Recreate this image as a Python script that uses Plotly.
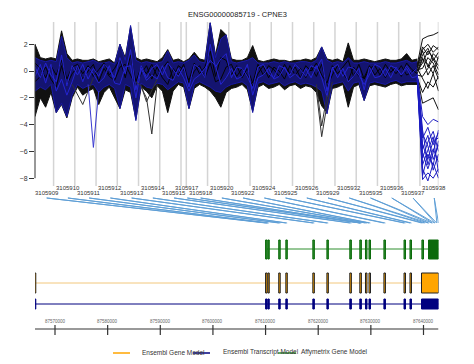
import plotly.graph_objects as go

W, H = 474, 364
def px(x):
    return x / W
def py(y):
    return 1 - y / H

FONT = "Liberation Sans, Arial, sans-serif"
TITLE = "ENSG00000085719 - CPNE3"

# ---------------- data: probe-level expression ----------------
probeset_ids = ["3105909", "3105910", "3105911", "3105912", "3105913", "3105914",
                "3105915", "3105917", "3105918", "3105920", "3105922", "3105924",
                "3105925", "3105926", "3105929", "3105932", "3105935", "3105936",
                "3105937", "3105938"]
probes_per_set = [4, 4, 4, 4, 4, 4, 4, 1, 4, 4, 4, 4, 4, 4, 4, 4, 4, 4, 4, 4]

# dense band of all samples (probes 1..73): outer (black) and inner (blue) envelopes
black_hi = [2.0, 1.0, 0.9, 1.0, 0.9, 3.0, 1.3, 0.8, 0.9, 0.8, 0.8, 0.9, 0.7, 0.8, 0.9, 0.6,
            2.0, 1.0, 3.3, 1.0, 0.8, 0.9, 0.8, 0.7, 1.0, 1.6, 0.8, 0.9, 0.7, 0.9, 1.4, 0.9,
            0.8, 3.6, 1.2, 3.1, 2.7, 0.9, 0.8, 0.8, 1.0, 1.9, 0.8, 0.7, 0.8, 0.9, 0.8, 0.8,
            0.7, 0.8, 0.8, 0.9, 0.8, 1.0, 1.8, 0.9, 0.8, 0.9, 0.7, 2.1, 0.8, 0.8, 0.9, 0.8,
            0.7, 0.8, 0.9, 0.8, 0.8, 0.9, 1.3, 0.8, 0.9]
black_lo = [-3.4, -2.0, -2.7, -1.6, -3.1, -2.5, -3.5, -2.0, -1.2, -1.8, -1.5, -1.3, -2.5, -1.6,
            -1.2, -2.0, -2.8, -1.4, -1.6, -3.6, -1.2, -1.5, -2.0, -1.1, -1.5, -3.1, -1.5, -1.0,
            -1.2, -2.8, -1.3, -1.0, -1.2, -1.5, -2.0, -2.7, -1.6, -1.3, -1.2, -1.0, -1.4, -3.0,
            -1.2, -1.0, -1.3, -1.2, -1.0, -1.4, -1.1, -1.0, -1.3, -1.1, -1.2, -1.6, -2.6, -3.1,
            -1.3, -1.2, -1.0, -2.7, -1.2, -1.0, -2.2, -1.1, -1.0, -1.1, -1.2, -1.0, -0.9, -1.1,
            -1.0, -1.0, -1.0]
blue_hi = [1.0, 0.8, 0.7, 0.8, 0.7, 2.6, 1.0, 0.6, 0.7, 0.6, 0.7, 0.8, 0.6, 0.6, 0.7, 0.5,
           2.0, 0.8, 3.4, 0.8, 0.6, 0.7, 0.6, 0.6, 0.7, 1.5, 0.6, 0.7, 0.6, 0.8, 1.2, 0.7,
           0.6, 3.6, 1.0, 2.4, 2.7, 0.7, 0.6, 0.7, 0.8, 1.0, 0.6, 0.6, 0.6, 0.7, 0.6, 0.7,
           0.6, 0.6, 0.7, 0.7, 0.6, 0.8, 1.8, 0.8, 0.6, 0.7, 0.6, 1.0, 0.6, 0.6, 0.7, 0.6,
           0.6, 0.6, 0.7, 0.6, 0.6, 0.7, 0.8, 0.6, 0.7]
blue_lo = [-1.5, -1.2, -1.4, -1.0, -3.1, -2.4, -3.4, -1.8, -1.0, -1.3, -1.1, -1.0, -1.6, -1.2,
           -1.0, -1.3, -2.8, -1.0, -1.2, -3.7, -0.9, -1.2, -1.3, -0.9, -1.0, -1.4, -1.1, -0.8,
           -0.9, -2.8, -1.0, -0.8, -1.0, -1.2, -1.5, -1.6, -1.2, -1.0, -0.9, -0.8, -1.1, -3.1,
           -0.9, -0.8, -1.0, -0.9, -0.8, -1.1, -0.9, -0.8, -1.0, -0.9, -1.0, -1.2, -1.5, -3.2,
           -1.0, -0.9, -0.8, -1.5, -0.9, -0.8, -2.2, -0.9, -0.8, -0.9, -1.0, -0.8, -0.7, -0.9,
           -0.8, -0.8, -0.8]

# a few individual samples visible inside the band (probes 1..73)
texture_black = [
    [0.6, 0.2, -0.5, 0.4, -0.3, 0.8, -0.6, 0.3, 0.5, -0.2, 0.4, -0.4, 0.1, 0.6, -0.3, 0.2,
     0.9, -0.5, 1.2, -0.8, 0.3, -0.2, 0.5, -0.4, 0.2, 0.7, -0.6, 0.4, 0.1, -0.7, 0.6, -0.2,
     0.3, 1.5, -0.4, 1.0, 0.8, -0.3, 0.4, -0.5, 0.2, -0.9, 0.5, -0.3, 0.4, 0.1, -0.4, 0.5,
     -0.2, 0.3, -0.5, 0.4, 0.0, 0.6, -0.3, -0.9, 0.4, -0.2, 0.3, 0.8, -0.4, 0.5, -0.6, 0.2,
     0.4, -0.3, 0.5, -0.1, 0.3, -0.4, 0.6, 0.1, -0.2],
    [-0.8, -0.4, 0.3, -0.6, -1.2, 0.4, -1.0, -0.2, 0.3, -0.6, 0.0, 0.5, -0.8, 0.2, -0.4, -0.7,
     0.3, 0.5, -0.3, -1.1, -0.2, 0.4, -0.6, 0.3, -0.5, -1.0, 0.2, -0.3, 0.5, -0.9, 0.0, 0.4,
     -0.5, 0.6, -0.8, -0.6, 0.3, 0.5, -0.4, 0.2, -0.3, -1.1, -0.2, 0.4, -0.5, 0.3, 0.0, -0.6,
     0.4, -0.3, 0.2, -0.5, 0.3, -0.4, 0.5, -1.2, -0.3, 0.4, -0.2, -0.7, 0.3, -0.4, -0.5, 0.4,
     -0.3, 0.2, -0.5, 0.3, -0.2, 0.4, -0.3, -0.1, 0.3]]
texture_blue = [
    [0.3, -0.5, 0.6, -0.3, -0.8, 1.2, -1.1, 0.4, -0.3, 0.5, -0.6, 0.2, -0.4, 0.5, 0.1, -0.5,
     1.0, -0.2, 1.6, -1.4, 0.4, -0.5, 0.2, 0.5, -0.3, 0.6, 0.1, -0.4, 0.3, -1.2, 0.5, 0.2,
     -0.5, 2.0, 0.3, 0.9, 1.3, -0.5, 0.3, 0.2, -0.4, -1.3, 0.3, 0.5, -0.2, -0.5, 0.4, 0.2,
     -0.3, 0.5, 0.1, -0.4, 0.4, 0.2, 0.9, -1.5, 0.2, 0.5, -0.4, 0.3, 0.2, -0.3, -1.0, -0.2,
     0.5, 0.3, -0.4, 0.4, 0.2, -0.3, 0.4, -0.2, 0.3],
    [-0.4, 0.5, -0.9, 0.5, -1.5, -0.6, -1.8, -0.8, 0.4, -0.8, 0.3, -0.2, -0.9, -0.5, 0.4, -0.9,
     -1.0, 0.3, 0.4, -2.0, 0.2, -0.7, -0.3, -0.6, 0.4, -0.5, -0.7, 0.2, -0.5, -1.5, -0.6, -0.3,
     0.2, 0.8, 0.4, -1.0, -0.5, 0.2, -0.6, -0.4, 0.5, -1.8, -0.5, -0.3, 0.2, -0.6, -0.4, 0.3,
     -0.5, -0.2, -0.6, 0.2, -0.5, 0.4, -0.5, -1.9, 0.3, -0.5, 0.2, -0.8, -0.4, 0.2, -1.4, 0.3,
     -0.5, -0.4, 0.2, -0.5, 0.3, -0.3, 0.2, -0.5, -0.4]]

# single outlying samples: (first probe, values)
black_outliers = [(8, [-1.0, -1.8, -2.5, -1.5, -0.5]),
                  (20, [-0.8, -1.1, -2.3, -1.4, -0.6]),
                  (21, [-1.2, -2.0, -4.7, -1.0]),
                  (54, [-1.5, -4.9, -2.5, -0.8]),
                  (54, [-1.0, -4.1, -1.8])]
blue_outliers = [(11, [-1.0, -5.7, -1.5])]

# last probe set (probes 73..77), each sample separately
last_first_probe = 73
last_black = [[0.5, 2.4, 2.6, 2.7, 2.9], [0.3, 1.8, 1.2, 1.9, 1.6], [0.2, 1.2, 1.7, 0.8, 1.4],
              [0.0, 0.6, 1.5, 1.0, 0.4], [0.4, 1.5, 0.3, 1.3, 0.9], [-0.2, 0.9, 0.5, -0.2, 1.1],
              [0.1, 0.2, 1.0, 0.6, -0.3], [-0.3, -0.4, 0.2, 0.9, 0.1], [0.0, 1.0, -0.3, 0.4, -0.6],
              [-0.5, -1.6, -0.8, -1.2, -0.4], [-0.4, -2.4, -2.2, -2.0, -2.9],
              [0.2, -0.6, -1.3, -0.2, -1.5], [0.3, 1.6, 2.0, 1.4, 1.8]]
last_blue = [[-0.3, -3.4, -4.0, -3.6, -3.8], [-0.5, -5.0, -4.2, -5.5, -4.6],
             [-0.4, -6.5, -5.3, -4.5, -6.0], [-0.6, -7.8, -6.2, -7.0, -5.2],
             [-0.2, -4.4, -7.0, -5.8, -6.8], [-0.5, -8.1, -7.6, -8.0, -7.3],
             [-0.3, -5.8, -4.8, -6.6, -5.5], [-0.7, -7.0, -5.9, -4.9, -7.6],
             [-0.4, -6.1, -7.3, -6.1, -4.4], [-0.6, -4.7, -5.6, -7.4, -6.2],
             [-0.3, -7.3, -8.2, -6.9, -8.0], [-0.5, -5.5, -6.6, -5.2, -5.0]]

y_ticks = [-8, -6, -4, -2, 0, 2]

# ---------------- data: genomic tracks ----------------
gene_ex_start = [87566100, 87610000, 87610450, 87612500, 87613850, 87618980, 87621650, 87626000,
                 87627900, 87628980, 87629650, 87632480, 87636300, 87637430, 87639620]
gene_ex_end = [87566350, 87610300, 87610700, 87612780, 87614130, 87619270, 87621930, 87626300,
               87628200, 87629260, 87629930, 87632770, 87636580, 87637720, 87642850]
affy_ex_start = [87610000, 87610450, 87612500, 87613850, 87618980, 87621650, 87626000, 87627900,
                 87628980, 87629650, 87632480, 87636300, 87637430, 87639700, 87640950]
affy_ex_end = [87610300, 87610700, 87612780, 87614130, 87619270, 87621930, 87626300, 87628200,
               87629260, 87629930, 87632770, 87636580, 87637720, 87640000, 87642850]
transcript_id = "ENST00000198765"
probeset_gstart = [87610000, 87610400, 87612500, 87613850, 87619000, 87621650, 87626000, 87627900,
                   87628050, 87628950, 87629650, 87632450, 87636300, 87637450, 87639650, 87640300,
                   87641000, 87641700, 87642200, 87642550]
probeset_gend = [87610300, 87610600, 87612800, 87614100, 87619250, 87621900, 87626300, 87628000,
                 87628200, 87629250, 87629900, 87632750, 87636550, 87637700, 87640000, 87640900,
                 87641600, 87642100, 87642500, 87642850]
genome_ticks = [87570000, 87580000, 87590000, 87600000, 87610000, 87620000, 87630000, 87640000]
genome_range = [87566200, 87642850]

legend_names = ["Ensembl Gene Model", "Ensembl Transcript Model", "Affymetrix Gene Model"]

# ---------------- colours ----------------
C_BLACK = "#111111"
C_BLUE = "#1c1cc0"
C_GRID = "#d4d4d4"
C_GREEN = "#2f8f2f"
C_DKGREEN = "#0b6a0b"
C_ORANGE = "#FFA500"
C_ORANGE_LN = "#F2C77C"
C_NAVY = "#00007f"
C_CONN = "#5f9fd6"

# ---------------- derived positions ----------------
n_probes = sum(probes_per_set)
band_x = list(range(1, len(black_hi) + 1))
starts = []
s = 1
for n in probes_per_set:
    starts.append(s)
    s += n
centers = [st + (n - 1) / 2 for st, n in zip(starts, probes_per_set)]
boundaries = [st + n - 0.5 for st, n in zip(starts, probes_per_set)][:-1] + [n_probes]

x_range = [1, n_probes]
def probe_to_genome(p):
    return genome_range[0] + (p - x_range[0]) / (x_range[1] - x_range[0]) * (genome_range[1] - genome_range[0])

fig = go.Figure()

def line_trace(x, y, color, width=1, **kw):
    return go.Scatter(x=x, y=y, mode="lines", line=dict(color=color, width=width),
                      hoverinfo="skip", showlegend=False, **kw)

# dense band
fig.add_trace(line_trace(band_x, black_lo, C_BLACK, xaxis="x", yaxis="y"))
fig.add_trace(line_trace(band_x, black_hi, C_BLACK, xaxis="x", yaxis="y",
                         fill="tonexty", fillcolor=C_BLACK))
fig.add_trace(line_trace(band_x, blue_lo, "#1a1aa8", xaxis="x", yaxis="y"))
fig.add_trace(line_trace(band_x, blue_hi, "#1a1aa8", xaxis="x", yaxis="y",
                         fill="tonexty", fillcolor="rgba(20,20,125,0.88)"))
for vals in texture_black:
    fig.add_trace(line_trace(band_x, vals, "#050505", xaxis="x", yaxis="y"))
for vals in texture_blue:
    fig.add_trace(line_trace(band_x, vals, "#2525d0", xaxis="x", yaxis="y"))

for first, vals in black_outliers:
    fig.add_trace(line_trace(list(range(first, first + len(vals))), vals, "#333333",
                             xaxis="x", yaxis="y"))
for first, vals in blue_outliers:
    fig.add_trace(line_trace(list(range(first, first + len(vals))), vals, "#3a3ad0",
                             xaxis="x", yaxis="y"))
last_x = list(range(last_first_probe, last_first_probe + 5))
for vals in last_black:
    fig.add_trace(line_trace(last_x, vals, C_BLACK, xaxis="x", yaxis="y"))
for vals in last_blue:
    fig.add_trace(line_trace(last_x, vals, C_BLUE, xaxis="x", yaxis="y"))

shapes = []
annotations = []

# probe set boundaries
for b in boundaries:
    shapes.append(dict(type="line", xref="x", yref="y domain", x0=b, x1=b, y0=0, y1=1,
                       line=dict(color=C_GRID, width=1.5), layer="below"))
# y axis line (R style: spans tick range only)
shapes.append(dict(type="line", xref="x domain", yref="y", x0=0, x1=0, y0=y_ticks[0], y1=y_ticks[-1],
                   line=dict(color="#333333", width=1)))

# probe set labels
for i, (pid, c) in enumerate(zip(probeset_ids, centers)):
    annotations.append(dict(text=pid, x=c + 0.7, y=py(193) if i % 2 == 0 else py(188),
                            xref="x", yref="paper", showarrow=False, xanchor="center",
                            yanchor="middle", font=dict(size=6, color="#333333", family=FONT)))

# connectors probe set -> genomic location
Y_CONN_TOP, Y_CONN_BOT = 142, 117
for c, g0, g1 in zip(centers, probeset_gstart, probeset_gend):
    gx = probe_to_genome(c + 0.7)
    for g in (g0, g1):
        fig.add_trace(line_trace([gx, g], [Y_CONN_TOP, Y_CONN_BOT], C_CONN,
                                 xaxis="x2", yaxis="y2"))

# Affymetrix gene model (green)
AF_LO, AF_HI, AF_MID = 81, 100, 91
fig.add_trace(line_trace([affy_ex_start[0], affy_ex_end[-1]], [AF_MID, AF_MID], C_GREEN,
                         xaxis="x2", yaxis="y2"))
for i, (a, b) in enumerate(zip(affy_ex_start, affy_ex_end)):
    last = i == len(affy_ex_start) - 1
    shapes.append(dict(type="rect", xref="x2", yref="y2", x0=a, x1=b, y0=AF_LO, y1=AF_HI,
                       fillcolor=C_DKGREEN if last else C_GREEN,
                       line=dict(color=C_DKGREEN, width=1)))

# Ensembl gene model (orange)
GM_LO, GM_HI, GM_MID = 47, 67, 57
fig.add_trace(line_trace([gene_ex_start[0], gene_ex_end[-1]], [GM_MID, GM_MID], C_ORANGE_LN,
                         xaxis="x2", yaxis="y2"))
for a, b in zip(gene_ex_start, gene_ex_end):
    shapes.append(dict(type="rect", xref="x2", yref="y2", x0=a, x1=b, y0=GM_LO, y1=GM_HI,
                       fillcolor=C_ORANGE, line=dict(color="#222222", width=1)))

annotations.append(dict(text=transcript_id, x=gene_ex_start[0], y=44, xref="x2", yref="y2",
                        showarrow=False, xanchor="left", yanchor="middle",
                        font=dict(size=5.5, color="#333333", family=FONT)))

# Ensembl transcript model (navy)
TR_LO, TR_HI, TR_MID = 31, 41, 36
fig.add_trace(line_trace([gene_ex_start[0], gene_ex_end[-1]], [TR_MID, TR_MID], C_NAVY,
                         xaxis="x2", yaxis="y2"))
for a, b in zip(gene_ex_start, gene_ex_end):
    shapes.append(dict(type="rect", xref="x2", yref="y2", x0=a, x1=b, y0=TR_LO, y1=TR_HI,
                       fillcolor=C_NAVY, line=dict(color=C_NAVY, width=1)))

# genomic axis
AX_Y = 11
fig.add_trace(line_trace(genome_range, [AX_Y, AX_Y], "#777777", width=1.5,
                         xaxis="x2", yaxis="y2"))
for t in genome_ticks:
    shapes.append(dict(type="line", xref="x2", yref="y2", x0=t, x1=t, y0=5, y1=15,
                       line=dict(color="#333333", width=1.2)))
    annotations.append(dict(text=str(t), x=t, y=19, xref="x2", yref="y2", showarrow=False,
                            xanchor="center", yanchor="middle",
                            font=dict(size=4.5, color="#666666", family=FONT)))

# title
annotations.append(dict(text=TITLE, x=px(237), y=py(15), xref="paper", yref="paper",
                        showarrow=False, xanchor="center", yanchor="middle",
                        font=dict(size=7.5, color="#222222", family=FONT)))

# legend (R style, drawn in layout)
leg_items = [(legend_names[0], C_ORANGE, 113, 130, 140),
             (legend_names[1], C_NAVY, 193, 210, 221),
             (legend_names[2], C_GREEN, 278, 296, 299)]
for name, col, l0, l1, tx in leg_items:
    shapes.append(dict(type="line", xref="paper", yref="paper", x0=px(l0), x1=px(l1),
                       y0=py(353), y1=py(353), line=dict(color=col, width=1.5)))
    annotations.append(dict(text=name, x=px(tx), y=py(352), xref="paper", yref="paper",
                            showarrow=False, xanchor="left", yanchor="middle",
                            font=dict(size=6.5, color="#333333", family=FONT)))

XDOM = [px(35), px(438.5)]
fig.update_layout(
    width=W, height=H, margin=dict(l=0, r=0, t=0, b=0),
    paper_bgcolor="white", plot_bgcolor="white",
    showlegend=False,
    font=dict(family=FONT, color="#333333"),
    xaxis=dict(domain=XDOM, range=x_range, visible=False, fixedrange=True),
    yaxis=dict(domain=[py(186), py(22)], range=[-8.58, 3.66], tickvals=y_ticks,
               ticks="outside", ticklen=5, tickwidth=1, tickcolor="#333333",
               showline=False, showgrid=False, zeroline=False,
               tickfont=dict(size=7, color="#333333", family=FONT), anchor="x"),
    xaxis2=dict(domain=XDOM, range=genome_range, visible=False, anchor="y2"),
    yaxis2=dict(domain=[py(340), py(195)], range=[0, 145], visible=False, anchor="x2"),
    shapes=shapes, annotations=annotations,
)

fig.write_html("out.html", config={"displayModeBar": False},
               post_script="document.body.style.margin='0';")
